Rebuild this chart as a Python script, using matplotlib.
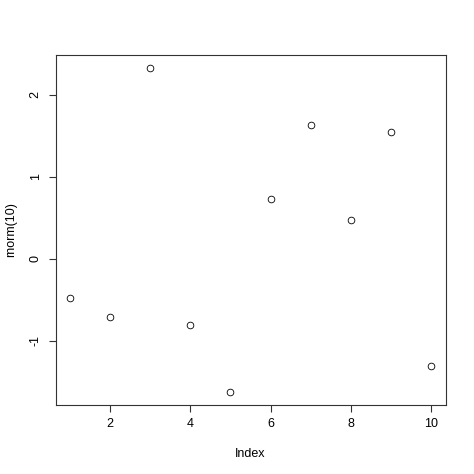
import matplotlib
matplotlib.use("Agg")
import matplotlib.pyplot as plt
import numpy as np

index = [1, 2, 3, 4, 5, 6, 7, 8, 9, 10]
values = [-0.476, -0.704, 2.33, -0.805, -1.618, 0.732, 1.634, 0.476, 1.549, -1.301]
xticks = [2, 4, 6, 8, 10]
yticks = [-1, 0, 1, 2]

plt.rcParams['font.family'] = ['Liberation Sans', 'DejaVu Sans']

fig = plt.figure(figsize=(4.74, 4.74), dpi=100)
W = H = 474
ax = fig.add_axes([55.5 / W, (H - 404.5) / H, (445.5 - 55.5) / W, (404.5 - 55) / H])

ax.plot(index, values, linestyle='none', marker='o', markersize=4.8,
        markerfacecolor='none', markeredgecolor='black', markeredgewidth=0.6)

xmin, xmax = min(index), max(index)
dx = (xmax - xmin) * 0.04
ax.set_xlim(xmin - dx, xmax + dx)
ymin, ymax = min(values), max(values)
dy = (ymax - ymin) * 0.04
ax.set_ylim(ymin - dy, ymax + dy)

ax.set_xticks(xticks)
ax.set_yticks(yticks)
ax.set_xticklabels([str(t) for t in xticks])
ax.set_yticklabels([str(t) for t in yticks], rotation=90, va='center')
for s in ax.spines.values():
    s.set_linewidth(0.8)
    s.set_color('#333333')
ax.tick_params(direction='out', length=5, width=0.8, color='#333333', labelsize=9, pad=5)

ax.set_xlabel('Index', fontsize=9, labelpad=13)
ax.set_ylabel('rnorm(10)', fontsize=9, labelpad=9)

fig.savefig('out.png', dpi=100, facecolor='white')
